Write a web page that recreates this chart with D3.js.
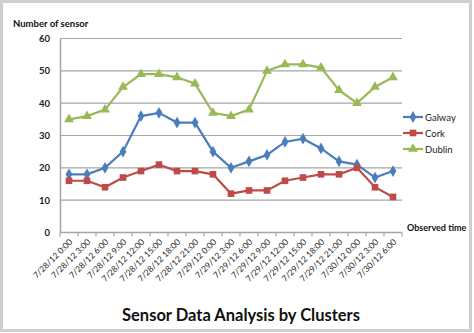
<!DOCTYPE html>
<html><head><meta charset="utf-8">
<script src="https://cdn.jsdelivr.net/npm/d3@7"></script>
<style>body{margin:0;background:#fff}svg{display:block}text{font-family:Lato,"Open Sans",sans-serif}</style>
</head><body>
<svg id="c" width="474" height="333"></svg>
<script>
const categories = ["7/28/12 0:00","7/28/12 3:00","7/28/12 6:00","7/28/12 9:00","7/28/12 12:00","7/28/12 15:00","7/28/12 18:00","7/28/12 21:00","7/29/12 0:00","7/29/12 3:00","7/29/12 6:00","7/29/12 9:00","7/29/12 12:00","7/29/12 15:00","7/29/12 18:00","7/29/12 21:00","7/30/12 0:00","7/30/12 3:00","7/30/12 6:00"];
const galway = [18,18,20,25,36,37,34,34,25,20,22,24,28,29,26,22,21,17,19];
const cork   = [16,16,14,17,19,21,19,19,18,12,13,13,16,17,18,18,20,14,11];
const dublin = [35,36,38,45,49,49,48,46,37,36,38,50,52,52,51,44,40,45,48];
const yTicks = [0,10,20,30,40,50,60];
const seriesNames = ["Galway","Cork","Dublin"];

const svg = d3.select("#c");
svg.append("rect").attr("x",1.5).attr("y",1.5).attr("width",469).attr("height",329)
  .attr("fill","#fff").attr("stroke","#cfcfcf").attr("stroke-width",3);

const L=60, R=402, T=38.5, B=232.5;
const x = d3.scaleBand().domain(categories).range([L,R]);
const y = d3.scaleLinear().domain([0,60]).range([B,T]);

// gridlines
svg.append("g").selectAll("line").data(yTicks.filter(d=>d>0)).join("line")
  .attr("x1",L).attr("x2",R).attr("y1",d=>y(d)).attr("y2",d=>y(d))
  .attr("stroke","#a6a6a6").attr("stroke-width",1.2);

// y axis
const ya = svg.append("g").attr("transform",`translate(${L},0)`)
  .call(d3.axisLeft(y).tickValues(yTicks).tickSize(0).tickPadding(10));
ya.select(".domain").attr("stroke","#a6a6a6").attr("stroke-width",1.5);
ya.selectAll("text").attr("font-size",9.5).attr("font-weight","bold").attr("fill","#222");

// x axis
const xa = svg.append("g").attr("transform",`translate(0,${B})`)
  .call(d3.axisBottom(x).tickSize(0).tickFormat(""));
xa.select(".domain").attr("stroke","#a6a6a6").attr("stroke-width",1.5).attr("d",`M${L},0H${R}`);
svg.append("g").selectAll("line").data(d3.range(categories.length+1)).join("line")
  .attr("x1",i=>L+i*x.step()).attr("x2",i=>L+i*x.step()).attr("y1",B).attr("y2",B+4)
  .attr("stroke","#a6a6a6").attr("stroke-width",1.2);
svg.append("g").selectAll("text").data(categories).join("text")
  .attr("transform",d=>`translate(${x(d)+x.bandwidth()/2+4},${B+10}) rotate(-45)`)
  .attr("text-anchor","end").attr("font-size",8.5).attr("fill","#222").text(d=>d);

// axis titles
svg.append("text").attr("x",13).attr("y",27).attr("font-size",9.5).attr("font-weight","bold").attr("fill","#111").text("Number of sensor");
svg.append("text").attr("x",407).attr("y",231).attr("font-size",9).attr("font-weight","bold").attr("fill","#111").text("Observed time");

// series
const series = [
  {name:"Galway", data:galway, color:"#4a7ebb", sym:d3.symbolDiamond, size:40},
  {name:"Cork", data:cork, color:"#be4b48", sym:d3.symbolSquare, size:44},
  {name:"Dublin", data:dublin, color:"#98b954", sym:d3.symbolTriangle, size:42}
];
const line = d3.line().x((d,i)=>x(categories[i])+x.bandwidth()/2).y(d=>y(d));
series.forEach(s=>{
  const g = svg.append("g");
  g.append("path").attr("d",line(s.data)).attr("fill","none").attr("stroke",s.color).attr("stroke-width",2.2);
  g.selectAll("path.m").data(s.data).join("path").attr("class","m")
    .attr("transform",(d,i)=>`translate(${x(categories[i])+x.bandwidth()/2},${y(d)})`)
    .attr("d",d3.symbol().type(s.sym).size(s.size)).attr("fill",s.color);
});

// legend
const lg = svg.append("g");
const ly = [117,133,149];
series.forEach((s,i)=>{
  lg.append("line").attr("x1",403).attr("x2",423).attr("y1",ly[i]).attr("y2",ly[i]).attr("stroke",s.color).attr("stroke-width",2.2);
  lg.append("path").attr("transform",`translate(413,${ly[i]})`).attr("d",d3.symbol().type(s.sym).size(s.size)).attr("fill",s.color);
  lg.append("text").attr("x",425).attr("y",ly[i]+3.5).attr("font-size",9.5).attr("fill","#222").text(s.name);
});

// title
svg.append("text").attr("x",241).attr("y",321).attr("text-anchor","middle").attr("font-size",16.5).attr("font-weight","bold").attr("fill","#111").text("Sensor Data Analysis by Clusters");
</script>
</body></html>
